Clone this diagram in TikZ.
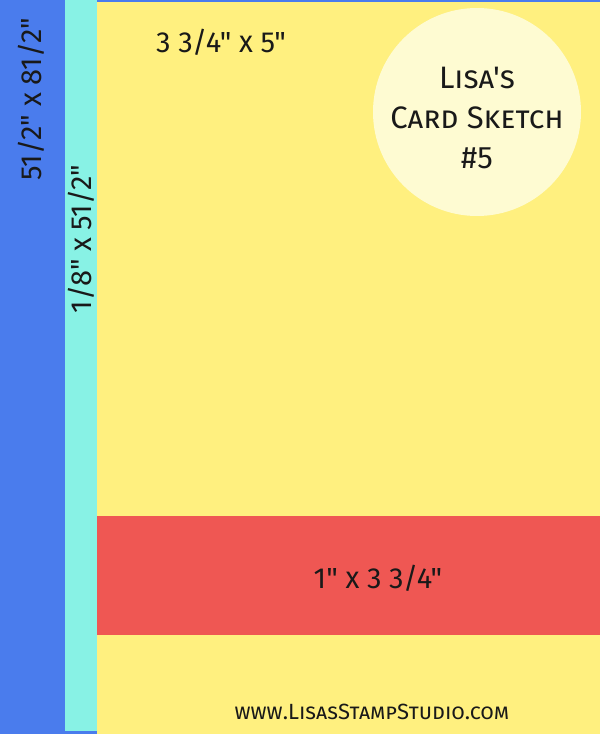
\documentclass[tikz,border=0pt]{standalone}
\usepackage{fontspec}
\setmainfont{Fira Sans}[Numbers=Lining,Ligatures=TeXOff]
\definecolor{cardblue}{RGB}{74,124,237}
\definecolor{cardcyan}{RGB}{136,242,229}
\definecolor{cardyellow}{RGB}{255,240,127}
\definecolor{cardred}{RGB}{239,87,83}
\definecolor{cardcream}{RGB}{254,251,210}

\begin{document}
\begin{tikzpicture}
  [x=1pt,y=-1pt,every node/.style={inner sep=0pt,text=black!90},
   size/.style={font=\fontsize{29}{34}\selectfont\scshape},
   title/.style={font=\fontsize{31}{40}\selectfont\scshape,align=center}]
  \useasboundingbox (0,0) rectangle (600,734);
  % layers of the card
  \fill[cardblue] (0,0) rectangle (600,734);
  \fill[cardcyan] (65,0) rectangle (97,731);
  \fill[cardyellow] (97,2) rectangle (600,734);
  \fill[cardred] (97,516) rectangle (600,635);
  \fill[cardcream] (477,112) circle (104);

  \node[size,rotate=90] (base) at (31,99) {51/2" x 81/2"};
  \node[size,rotate=90] (strip) at (81,239) {1/8" x 51/2"};
  \node[size] (panel) at (221,42) {3 3/4" x 5"};
  \node[size] (band) at (378,578) {1" x 3 3/4"};
  \node[title] (sketch) at (477,118) {Lisa's\\Card Sketch\\\#5};
  \node[font=\fontsize{22}{26}\selectfont\scshape] (site) at (372,712) {www.LisasStampStudio.com};
\end{tikzpicture}
\end{document}
